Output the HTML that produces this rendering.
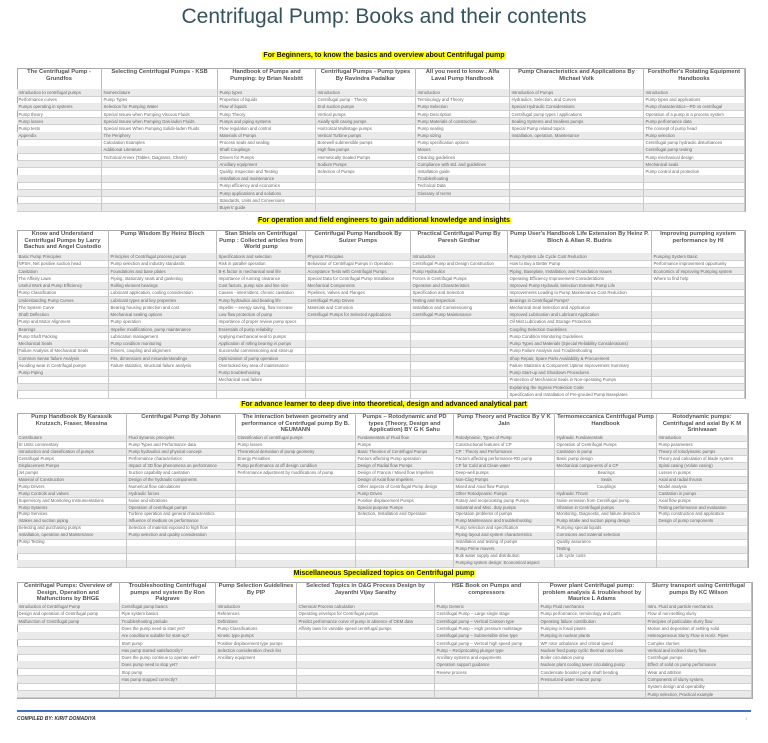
<!DOCTYPE html>
<html><head><meta charset="utf-8">
<style>
html,body{margin:0;padding:0;background:#fff;}
body{width:768px;height:743px;position:relative;overflow:hidden;font-family:"Liberation Sans",sans-serif;}
.title{position:absolute;left:0;width:768px;top:5px;text-align:center;font-size:21px;color:#35535d;}
.banner{position:absolute;left:0;width:768px;text-align:center;font-size:7px;font-weight:bold;}
.banner span{background:#ffff00;color:#111;padding:0 1px;}
.tbl{position:absolute;border:1px solid #aaa;box-sizing:border-box;}
.hd{position:absolute;box-sizing:border-box;border-right:1px solid #bbb;border-bottom:1px solid #bbb;text-align:center;font-size:5.8px;font-weight:bold;color:#555;line-height:6.6px;padding:1px 2px 0;overflow:hidden;}
.cell{position:absolute;box-sizing:border-box;border-right:1px solid #c8c8c8;border-bottom:1px solid #d0d0d0;font-size:4.3px;color:#666;padding-left:1.5px;white-space:nowrap;overflow:hidden;}
.g{background:#eaeaea;}
.footline{position:absolute;left:17px;top:710px;width:734px;height:2px;background:#4472c4;}
.foot{position:absolute;left:17px;top:716px;font-size:5px;font-weight:bold;font-style:italic;color:#333;}
.pg{position:absolute;left:745px;top:716px;font-size:4px;color:#aaa;}
</style></head>
<body>
<div class="title">Centrifugal Pump: Books and their contents</div>
<div class="banner" style="top:52px"><span>For Beginners, to know the basics and overview about Centrifugal pump</span></div>
<div class="banner" style="top:217px"><span>For operation and field engineers to gain additional knowledge and insights</span></div>
<div class="banner" style="top:401px"><span>For advance learner to deep dive into theoretical, design and advanced analytical part</span></div>
<div class="banner" style="top:570px"><span>Miscellaneous Specialized topics on Centrifugal pump</span></div>
<div class="footline"></div>
<div class="foot">COMPILED BY: KIRIT DOMADIYA</div>
<div class="pg">1</div>
<script>
const s1Headers=["The Centrifugal Pump - Grundfos","Selecting Centrifugal Pumps - KSB","Handbook of Pumps and Pumping: by Brian Nesbitt","Centrifugal Pumps - Pump types By Ravindra Padalkar","All you need to know . Alfa Laval Pump Handbook","Pump Characteristics and Applications By Michael Volk","Forsthoffer's Rotating Equipment Handbooks"];
const s1Rows=[
["Introduction to centrifugal pumps","Performance curves","Pumps operating in systems","Pump theory","Pump losses","Pump tests","Appendix"],
["Nomenclature","Pump Types","Selection for Pumping Water","Special Issues when Pumping Viscous Fluids","Special Issues when Pumping Gas-laden Fluids","Special Issues When Pumping Solids-laden Fluids","The Periphery","Calculation Examples","Additional Literature","Technical Annex (Tables, Diagrams, Charts)"],
["Pump types","Properties of liquids","Flow of liquids","Pump Theory","Pumps and piping systems","Flow regulation and control","Materials of Pumps","Process seals and sealing","Shaft Couplings","Drivers for Pumps","Ancillary equipment","Quality, Inspection and Testing","Installation and maintenance","Pump efficiency and economics","Pump applications and solutions","Standards, Units and Conversions","Buyers' guide"],
["Introduction","Centrifugal pump - Theory","End suction pumps","Vertical pumps","Axially split casing pumps","Horizontal Multistage pumps","Vertical Turbine pumps","Borewell submersible pumps","High flow pumps","Hermetically Sealed Pumps","Sodium Pumps","Selection of Pumps"],
["Introduction","Terminology and Theory","Pump Selection","Pump Description","Pump Materials of construction","Pump sealing","Pump sizing","Pump specification options","Motors","Cleaning guidelines","Compliance with std. and guidelines","Installation guide","Troubleshooting","Technical Data","Glossary of terms"],
["Introduction of Pumps","Hydraulics, Selection, and Curves","Special Hydraulic Considerations","Centrifugal pump types / applications","Sealing Systems and Sealless pumps","Special Pump related topics","Installation, operation, Maintenance"],
["Introduction","Pump types and applications","Pump characteristics—PD vs centrifugal","Operation of a pump in a process system","Pump performance data","The concept of pump head","Pump selection","Centrifugal pump hydraulic disturbances","Centrifugal pump testing","Pump mechanical design","Mechanical seals","Pump control and protection"]];
const s2Headers=["Know and Understand Centrifugal Pumps by Larry Bachus and Angel Custodio","Pump Wisdom By Heinz Bloch","Stan Shiels on Centrifugal Pump : Collected articles from World pump","Centrifugal Pump Handbook By Sulzer Pumps","Practical Centrifugal Pump By Paresh Girdhar","Pump User's Handbook Life Extension By Heinz P. Bloch & Allan R. Budris","Improving pumping system performance by HI"];
const s2Rows=[
["Basic Pump Principles","NPSH, Net positive suction head","Cavitation","The Affinity Laws","Useful Work and Pump Efficiency","Pump Classification","Understanding Pump Curves","The System Curve","Shaft Deflection","Pump and Motor Alignment","Bearings","Pump Shaft Packing","Mechanical Seals","Failure Analysis of Mechanical Seals","Common Sense failure Analysis","Avoiding wear in Centrifugal pumps","Pump Piping"],
["Principles of Centrifugal process pumps","Pump selection and industry standards","Foundations and base plates","Piping, stationary seals and gasketing","Rolling element bearings","Lubricant application, cooling consideration","Lubricant types and key properties","Bearing housing protection and cost","Mechanical sealing options","Pump operation","Impeller modifications, pump maintenance","Lubrication management","Pump condition monitoring","Drivers, coupling and alignment","Fits, dimensions and misunderstandings","Failure statistics, structural failure analysis"],
["Specifications and selection","Risk in parallel operation","B-K factor in mechanical seal life","Importance of running clearance","Cost factors, pump size and line size","Causes - intermittent, chronic cavitation","Pump hydraulics and bearing life","Impeller – energy saving, flow increase","Low flow protection of pump","Importance of proper review pump specs","Essentials of pump reliability","Applying mechanical seal to pumps","Application of rolling bearing in pumps","Successful commissioning and strat-up","Optimization of pump operation","Overlooked key area of maintenance","Pump troubleshooting","Mechanical seal failure"],
["Physical Principles","Behaviour of Centrifugal Pumps in Operation","Acceptance Tests with Centrifugal Pumps","Special Data for Centrifugal Pump Installation","Mechanical Components","Pipelines, Valves and Flanges","Centrifugal Pump Drives","Materials and Corrosion","Centrifugal Pumps for Selected Applications"],
["Introduction","Centrifugal Pump and Design Construction","Pump Hydraulics","Forces in Centrifugal Pumps","Operation and Characteristics","Specification and Selection","Testing and Inspection","Installation and Commissioning","Centrifugal Pump Maintenance"],
["Pump System Life Cycle Cost Reduction","How to Buy a Better Pump","Piping, Baseplate, Installation, and Foundation Issues","Operating Efficiency Improvement Considerations","Improved Pump Hydraulic Selection Extends Pump Life","Improvements Leading to Pump Maintenance Cost Reduction","Bearings in Centrifugal Pumps*","Mechanical Seal Selection and Application","Improved Lubrication and Lubricant Application","Oil Mist Lubrication and Storage Protection","Coupling Selection Guidelines","Pump Condition Monitoring Guidelines","Pump Types and Materials (Special Reliability Considerations)","Pump Failure Analysis and Troubleshooting","Shop Repair, Spare Parts Availability & Procurement","Failure Statistics & Component Uptime Improvement Summary","Pump Start-up and Shutdown Procedures","Protection of Mechanical Seals in Non-operating Pumps","Explaining the Ingress Protection Code","Specification and Installation of Pre-grouted Pump Baseplates"],
["Pumping System Basic","Performance improvement opportunity","Economics of Improving Pumping system","Where to find help"]];
const s3Headers=["Pump Handbook By Karassik Krutzsch, Fraser, Messina","Centrifugal Pump By Johann","The interaction between geometry and performance of Centrifugal pump By B. NEUMANN","Pumps – Rotodynamic and PD types (Theory, Design and Application) BY G K Sahu","Pump Theory and Practice By V K Jain","Termomeccanica Centrifugal Pump Handbook","Rotodynamic pumps: Centrifugal and axial By K M Srinivasan"];
const s3Rows=[
["Contributors","SI Units commentary","Introduction and classification of pumps","Centrifugal Pumps","Displacement Pumps","Jet pumps","Material of Construction","Pump Drivers","Pump Controls and valves","Supervisory and Monitoring Instrumentations","Pump Systems","Pump Services","Intakes and suction piping","Selecting and purchasing pumps","Installation, operation and Maintenance","Pump Testing"],
["Fluid dynamic principles","Pump Types and Performance data","Pump hydraulics and physical concept","Performance characteristics","Impact of 3D flow phenomena on performance","Suction capability and cavitation","Design of the hydraulic components","Numerical flow calculations","Hydraulic forces","Noise and vibrations","Operation of centrifugal pumps","Turbine operation and general characteristics","Influence of medium on performance","Selection of material exposed to high flow","Pump selection and quality consideration"],
["Classification of centrifugal pumps","Pump losses","Theoretical derivation of pump geometry","Energy Penalties","Pump performance at off design condition","Performance adjustment by modifications of pump"],
["Fundamentals of Fluid flow","Pumps","Basic Theories of Centrifugal Pumps","Factors affecting Pump operation","Design of Radial flow Pumps","Design of Francis / Mixed flow Impellers","Design of Axial flow Impellers","Other aspects of Centrifugal Pump design","Pump Drives","Positive displacement Pumps","Special purpose Pumps","Selection, Installation and Operation"],
["Rotodynamic, Types of Pump","Constructional features of CP","CP : Theory and Performance","Factors affecting performance-RD pump","CP for Cold and Clean water","Deep-well pumps","Non-Clog Pumps","Mixed and Axial flow Pumps","Other Rotodynamic Pumps","Rotary and reciprocating pump Pumps","Industrial and Misc. duty pumps","Operation problems of pumps","Pump Maintenance and troubleshooting","Pump selection and specification","Piping layout and system characteristics","Installation and testing of pumps","Pump Prime movers","Bulk water supply and distribution","Pumping system design: Economical aspect"],
["Hydraulic Fundamentals","Operation of Centrifugal Pumps","Cavitation in pump","Basic pump design","Mechanical components of a CP","^Bearings","^Seals","^Couplings","Hydraulic Thrust","Noise emission from Centrifugal pump","Vibration in Centrifugal pumps","Monitoring, Diagnostic, and failure detection","Pump intake and suction piping design","Pumping special liquids","Corrosions and material selection","Quality assurance","Testing","Life cycle costs"],
["Introduction","Pump parameters","Theory of rotodynamic pumps","Theory and calculation of blade system","Spiral casing (Volute casing)","Losses in pumps","Axial and radial thrusts","Model analysis","Cavitation in pumps","Axial flow pumps","Testing performance and evaluation","Pump construction and application","Design of pump components"]];
const s4Headers=["Centrifugal Pumps: Overview of Design, Operation and Malfunctions by BHGE","Troubleshooting Centrifugal pumps and system By Ron Palgrave","Pump Selection Guidelines By PIP","Selected Topics in O&G Process Design by Jayanthi Vijay Sarathy","HSE Book on Pumps and compressors","Power plant Centrifugal pump: problem analysis & troubleshoot by Maurice L Adams","Slurry transport using Centrifugal pumps By KC Wilson"];
const s4Rows=[
["Introduction of Centrifugal Pump","Design and operation of Centrifugal pump","Malfunction of Centrifugal pump"],
["Centrifugal pump basics","Pipe system basics","Troubleshooting prelude","Does the pump need to start yet?","Are conditions suitable for start-up?","Start pump","Has pump started satisfactorily?","Does the pump continue to operate well?","Does pump need to stop yet?","Stop pump","Has pump stopped correctly?"],
["Introduction","References","Definitions","Pump Classifications","Kinetic type pumps","Positive displacement type pumps","Selection consideration check list","Ancillary equipment"],
["Chemical Process calculation","Operating envelops for Centrifugal pumps","Predict performance curve of pump in absence of OEM data","Affinity laws for variable speed centrifugal pumps"],
["Pump Generic","Centrifugal Pump – Large single stage","Centrifugal pump – Vertical Caisson type","Centrifugal Pump – High pressure multistage","Centrifugal pump – Submersible drive type","Centrifugal pump – Vertical high speed pump","Pump – Reciprocating plunger type","Ancillary systems and equipments","Operation support guidance","Review process"],
["Pump Fluid mechanics","Pump performance, terminology and parts","Operating failure contribution","Pumping in fossil plants","Pumping in nuclear plants","WP rotor unbalance and critical speed","Nuclear feed pump cyclic thermal rotor bow","Boiler circulation pump","Nuclear plant cooling tower circulating pump","Condensate booster pump shaft bending","Pressurized water reactor pump"],
["Intro. Fluid and particle mechanics","Flow of non-settling slurry","Principles of particulate slurry flow","Motion and deposition of settling solid","Heterogeneous Slurry Flow in Horiz. Pipes","Complex slurries","Vertical and inclined slurry flow","Centrifugal pumps","Effect of solid on pump performance","Wear and attrition","Components of slurry system,","System design and operability","Pump selection, Practical example"]];

function build(name,headers,rows,cols,top,hh,rh,n){
  const t=document.createElement('div');
  t.className='tbl';
  
  
  t.style.left=cols[0]+'px';t.style.top=top+'px';
  t.style.width=(cols[cols.length-1]-cols[0]+1)+'px';
  t.style.height=(hh+rh*n+1)+'px';
  document.body.appendChild(t);
  for(let c=0;c<headers.length;c++){
    const x=cols[c]-cols[0]-1, w=cols[c+1]-cols[c];
    const h=document.createElement('div');
    h.className='hd';
    
    
    h.style.left=x+'px';h.style.top='-1px';h.style.width=w+'px';h.style.height=(hh+1)+'px';
    h.textContent=headers[c];
    t.appendChild(h);
    for(let r=0;r<n;r++){
      const d=document.createElement('div');
      d.className='cell'+(r%2==0?' g':'');
      
      
      d.style.left=x+'px';d.style.top=(hh-1+r*rh)+'px';d.style.width=w+'px';
      d.style.height=(rh+0.5)+'px';d.style.lineHeight=rh+'px';
      let txt=rows[c][r]||'';
      if(txt.startsWith('^')){txt=txt.slice(1);d.style.textAlign='center';}
      d.textContent=txt;
      t.appendChild(d);
    }
  }
}
build('beginners-table',s1Headers,s1Rows,[17,102,218,316,416,510,644,745],68,21,7.18,17);
build('engineers-table',s2Headers,s2Rows,[17,109,217,306,411,508,652,745],230,23,7.25,20);
build('advanced-table',s3Headers,s3Rows,[17,127,236,356,454,555,657,748],413,22,6.95,19);
build('misc-table',s4Headers,s4Rows,[17,120,216,297,435,539,646,752],582,21,7.3,13);
</script>
</body></html>
